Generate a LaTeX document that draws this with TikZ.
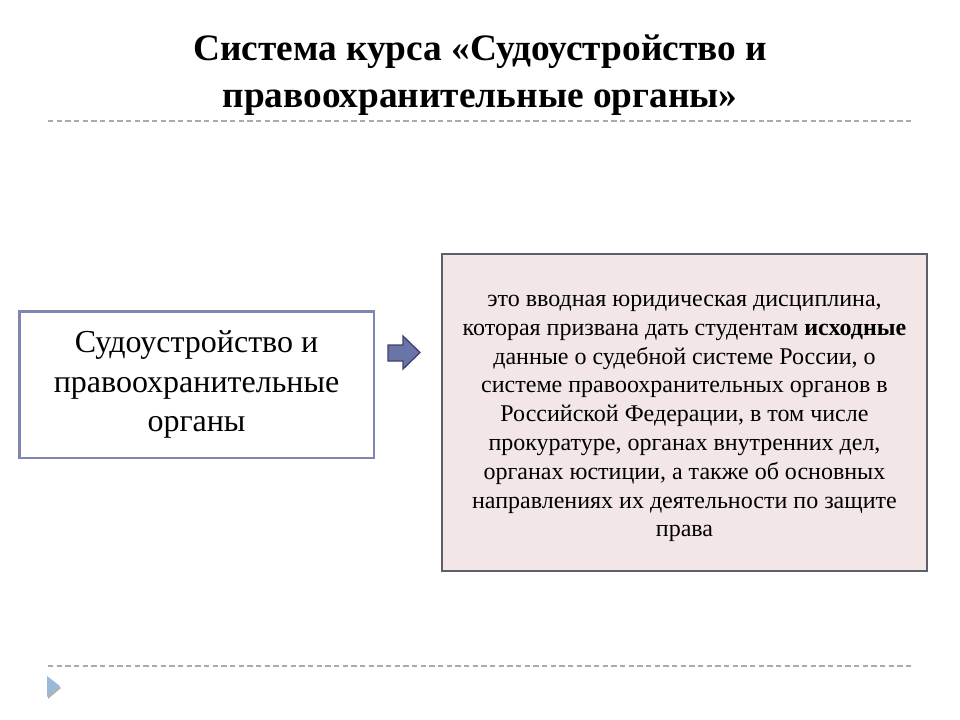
\documentclass[tikz,border=0pt]{standalone}
\usepackage{fontspec}
\setmainfont{Liberation Serif}
\usetikzlibrary{positioning}
\definecolor{dashgray}{HTML}{A6ADB5}
\definecolor{leftborder}{HTML}{7E86B4}
\definecolor{rightborder}{HTML}{5E5E6E}
\definecolor{rightfill}{HTML}{F2E6E6}
\definecolor{arrowfill}{HTML}{6A74A6}
\definecolor{arrowline}{HTML}{3C4472}
\definecolor{bullet}{HTML}{9AB8D8}
\tikzset{
  sep/.style={draw=dashgray, line width=1pt, dash pattern=on 4pt off 2.5pt},
  titletext/.style={align=center, font=\fontsize{28}{35}\selectfont\bfseries},
  leftbox/.style={draw=leftborder, line width=2pt, fill=white, minimum width=266pt, minimum height=110pt, align=center, font=\fontsize{24}{29.5}\selectfont},
  rightbox/.style={draw=rightborder, line width=1.5pt, fill=rightfill, minimum width=364pt, minimum height=238pt},
  righttext/.style={align=center, font=\fontsize{18}{21.6}\selectfont},
}
\begin{document}
\begin{tikzpicture}[x=0.75pt, y=-0.75pt]
\useasboundingbox (0,0) rectangle (960,720);
\fill[white] (0,0) rectangle (960,720);
% title
\node[titletext] (title) at (480,75) {Система курса «Судоустройство и\\правоохранительные органы»};
% separators
\coordinate (s1a) at (48,121);
\coordinate (s1b) at (912,121);
\coordinate (s2a) at (48,666);
\coordinate (s2b) at (912,666);
\draw[sep] (s1a) -- (s1b);
\draw[sep] (s2a) -- (s2b);
% bullet triangle
\fill[gray!60] (48,678) -- (61,688) -- (48,699) -- cycle;
\fill[bullet] (47,676) -- (60,686) -- (47,697) -- cycle;
% boxes
\node[leftbox] (left) at (196.5,384.5) {Судоустройство и\\правоохранительные\\органы};
\node[rightbox] (right) at (684.5,412.5) {};
\node[righttext] (rtext) at ([yshift=-4.5pt]right.center) {это вводная юридическая дисциплина,\\которая призвана дать студентам \textbf{исходные}\\данные о судебной системе России, о\\системе правоохранительных органов в\\Российской Федерации, в том числе\\прокуратуре, органах внутренних дел,\\органах юстиции, а также об основных\\направлениях их деятельности по защите\\права};
% block arrow
\draw[fill=arrowfill, draw=arrowline, line width=1pt, line join=miter]
  (388,345) -- (403,345) -- (403,336) -- (420,352.5) -- (403,369) -- (403,361) -- (388,361) -- cycle;
\end{tikzpicture}
\end{document}
